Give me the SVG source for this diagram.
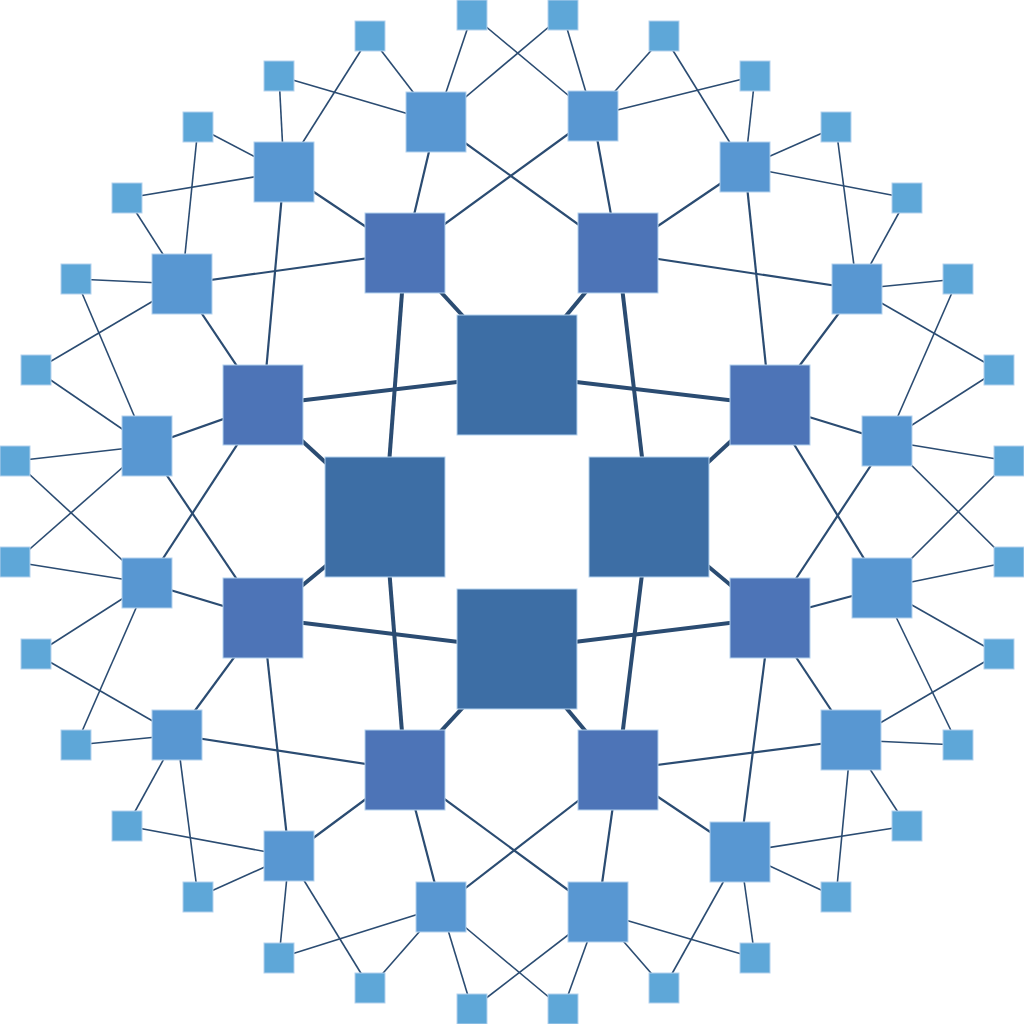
<svg xmlns="http://www.w3.org/2000/svg" width="1024" height="1024" viewBox="0 0 1024 1024">
<style>
.c,.s,.t,.o{stroke:#b4d2ee;stroke-width:1}
.c{fill:#3d6ea5}
.s{fill:#4d74b7}
.t{fill:#5897d2}
.o{fill:#5ea7d8}
line{stroke:#2b4c72;stroke-linecap:butt}
.k{stroke-width:4}
.m{stroke-width:2.2}
.n{stroke-width:1.6}
</style>
<rect x="0" y="0" width="1024" height="1024" fill="#ffffff"/>
<g id="connectors">
<line class="k" x1="405" y1="253" x2="517" y2="375"/>
<line class="k" x1="405" y1="253" x2="385" y2="517"/>
<line class="k" x1="618" y1="253" x2="517" y2="375"/>
<line class="k" x1="618" y1="253" x2="649" y2="517"/>
<line class="k" x1="263" y1="405" x2="517" y2="375"/>
<line class="k" x1="263" y1="405" x2="385" y2="517"/>
<line class="k" x1="770" y1="405" x2="517" y2="375"/>
<line class="k" x1="770" y1="405" x2="649" y2="517"/>
<line class="k" x1="263" y1="618" x2="385" y2="517"/>
<line class="k" x1="263" y1="618" x2="517" y2="649"/>
<line class="k" x1="770" y1="618" x2="649" y2="517"/>
<line class="k" x1="770" y1="618" x2="517" y2="649"/>
<line class="k" x1="405" y1="770" x2="385" y2="517"/>
<line class="k" x1="405" y1="770" x2="517" y2="649"/>
<line class="k" x1="618" y1="770" x2="649" y2="517"/>
<line class="k" x1="618" y1="770" x2="517" y2="649"/>
<line class="m" x1="405" y1="253" x2="436" y2="122"/>
<line class="m" x1="405" y1="253" x2="284" y2="172"/>
<line class="m" x1="405" y1="253" x2="182" y2="284"/>
<line class="m" x1="405" y1="253" x2="593" y2="116"/>
<line class="m" x1="618" y1="253" x2="436" y2="122"/>
<line class="m" x1="618" y1="253" x2="857" y2="289"/>
<line class="m" x1="618" y1="253" x2="745" y2="167"/>
<line class="m" x1="618" y1="253" x2="593" y2="116"/>
<line class="m" x1="263" y1="405" x2="284" y2="172"/>
<line class="m" x1="263" y1="405" x2="182" y2="284"/>
<line class="m" x1="263" y1="405" x2="147" y2="446"/>
<line class="m" x1="263" y1="405" x2="147" y2="583"/>
<line class="m" x1="770" y1="405" x2="882" y2="588"/>
<line class="m" x1="770" y1="405" x2="887" y2="441"/>
<line class="m" x1="770" y1="405" x2="857" y2="289"/>
<line class="m" x1="770" y1="405" x2="745" y2="167"/>
<line class="m" x1="263" y1="618" x2="147" y2="446"/>
<line class="m" x1="263" y1="618" x2="147" y2="583"/>
<line class="m" x1="263" y1="618" x2="177" y2="735"/>
<line class="m" x1="263" y1="618" x2="289" y2="856"/>
<line class="m" x1="770" y1="618" x2="740" y2="852"/>
<line class="m" x1="770" y1="618" x2="851" y2="740"/>
<line class="m" x1="770" y1="618" x2="882" y2="588"/>
<line class="m" x1="770" y1="618" x2="887" y2="441"/>
<line class="m" x1="405" y1="770" x2="177" y2="735"/>
<line class="m" x1="405" y1="770" x2="289" y2="856"/>
<line class="m" x1="405" y1="770" x2="441" y2="907"/>
<line class="m" x1="405" y1="770" x2="598" y2="912"/>
<line class="m" x1="618" y1="770" x2="441" y2="907"/>
<line class="m" x1="618" y1="770" x2="598" y2="912"/>
<line class="m" x1="618" y1="770" x2="740" y2="852"/>
<line class="m" x1="618" y1="770" x2="851" y2="740"/>
<line class="n" x1="436" y1="122" x2="472" y2="15"/>
<line class="n" x1="436" y1="122" x2="370" y2="36"/>
<line class="n" x1="436" y1="122" x2="279" y2="76"/>
<line class="n" x1="436" y1="122" x2="563" y2="15"/>
<line class="n" x1="284" y1="172" x2="370" y2="36"/>
<line class="n" x1="284" y1="172" x2="279" y2="76"/>
<line class="n" x1="284" y1="172" x2="198" y2="127"/>
<line class="n" x1="284" y1="172" x2="127" y2="198"/>
<line class="n" x1="182" y1="284" x2="198" y2="127"/>
<line class="n" x1="182" y1="284" x2="127" y2="198"/>
<line class="n" x1="182" y1="284" x2="76" y2="279"/>
<line class="n" x1="182" y1="284" x2="36" y2="370"/>
<line class="n" x1="147" y1="446" x2="76" y2="279"/>
<line class="n" x1="147" y1="446" x2="36" y2="370"/>
<line class="n" x1="147" y1="446" x2="15" y2="461"/>
<line class="n" x1="147" y1="446" x2="15" y2="562"/>
<line class="n" x1="147" y1="583" x2="15" y2="461"/>
<line class="n" x1="147" y1="583" x2="15" y2="562"/>
<line class="n" x1="147" y1="583" x2="36" y2="654"/>
<line class="n" x1="147" y1="583" x2="76" y2="745"/>
<line class="n" x1="177" y1="735" x2="36" y2="654"/>
<line class="n" x1="177" y1="735" x2="76" y2="745"/>
<line class="n" x1="177" y1="735" x2="127" y2="826"/>
<line class="n" x1="177" y1="735" x2="198" y2="897"/>
<line class="n" x1="289" y1="856" x2="127" y2="826"/>
<line class="n" x1="289" y1="856" x2="198" y2="897"/>
<line class="n" x1="289" y1="856" x2="279" y2="958"/>
<line class="n" x1="289" y1="856" x2="370" y2="988"/>
<line class="n" x1="441" y1="907" x2="279" y2="958"/>
<line class="n" x1="441" y1="907" x2="370" y2="988"/>
<line class="n" x1="441" y1="907" x2="472" y2="1009"/>
<line class="n" x1="441" y1="907" x2="563" y2="1009"/>
<line class="n" x1="598" y1="912" x2="472" y2="1009"/>
<line class="n" x1="598" y1="912" x2="563" y2="1009"/>
<line class="n" x1="598" y1="912" x2="664" y2="988"/>
<line class="n" x1="598" y1="912" x2="755" y2="958"/>
<line class="n" x1="740" y1="852" x2="664" y2="988"/>
<line class="n" x1="740" y1="852" x2="755" y2="958"/>
<line class="n" x1="740" y1="852" x2="836" y2="897"/>
<line class="n" x1="740" y1="852" x2="907" y2="826"/>
<line class="n" x1="851" y1="740" x2="836" y2="897"/>
<line class="n" x1="851" y1="740" x2="907" y2="826"/>
<line class="n" x1="851" y1="740" x2="958" y2="745"/>
<line class="n" x1="851" y1="740" x2="998" y2="654"/>
<line class="n" x1="882" y1="588" x2="958" y2="745"/>
<line class="n" x1="882" y1="588" x2="998" y2="654"/>
<line class="n" x1="882" y1="588" x2="1009" y2="562"/>
<line class="n" x1="882" y1="588" x2="1009" y2="461"/>
<line class="n" x1="887" y1="441" x2="1009" y2="562"/>
<line class="n" x1="887" y1="441" x2="1009" y2="461"/>
<line class="n" x1="887" y1="441" x2="998" y2="370"/>
<line class="n" x1="887" y1="441" x2="958" y2="279"/>
<line class="n" x1="857" y1="289" x2="998" y2="370"/>
<line class="n" x1="857" y1="289" x2="958" y2="279"/>
<line class="n" x1="857" y1="289" x2="907" y2="198"/>
<line class="n" x1="857" y1="289" x2="836" y2="127"/>
<line class="n" x1="745" y1="167" x2="907" y2="198"/>
<line class="n" x1="745" y1="167" x2="836" y2="127"/>
<line class="n" x1="745" y1="167" x2="755" y2="76"/>
<line class="n" x1="745" y1="167" x2="664" y2="36"/>
<line class="n" x1="593" y1="116" x2="755" y2="76"/>
<line class="n" x1="593" y1="116" x2="664" y2="36"/>
<line class="n" x1="593" y1="116" x2="563" y2="15"/>
<line class="n" x1="593" y1="116" x2="472" y2="15"/>
</g>
<g id="c-top"><rect class="c" x="457" y="315" width="120" height="120"/></g>
<g id="c-left"><rect class="c" x="325" y="457" width="120" height="120"/></g>
<g id="c-right"><rect class="c" x="589" y="457" width="120" height="120"/></g>
<g id="c-bottom"><rect class="c" x="457" y="589" width="120" height="120"/></g>
<g id="s1"><rect class="s" x="365" y="213" width="80" height="80"/></g>
<g id="s2"><rect class="s" x="578" y="213" width="80" height="80"/></g>
<g id="s3"><rect class="s" x="223" y="365" width="80" height="80"/></g>
<g id="s4"><rect class="s" x="730" y="365" width="80" height="80"/></g>
<g id="s5"><rect class="s" x="223" y="578" width="80" height="80"/></g>
<g id="s6"><rect class="s" x="730" y="578" width="80" height="80"/></g>
<g id="s7"><rect class="s" x="365" y="730" width="80" height="80"/></g>
<g id="s8"><rect class="s" x="578" y="730" width="80" height="80"/></g>
<g id="t1"><rect class="t" x="406" y="92" width="60" height="60"/></g>
<g id="t2"><rect class="t" x="254" y="142" width="60" height="60"/></g>
<g id="t3"><rect class="t" x="152" y="254" width="60" height="60"/></g>
<g id="t4"><rect class="t" x="122" y="416" width="50" height="60"/></g>
<g id="t5"><rect class="t" x="122" y="558" width="50" height="50"/></g>
<g id="t6"><rect class="t" x="152" y="710" width="50" height="50"/></g>
<g id="t7"><rect class="t" x="264" y="831" width="50" height="50"/></g>
<g id="t8"><rect class="t" x="416" y="882" width="50" height="50"/></g>
<g id="t9"><rect class="t" x="568" y="882" width="60" height="60"/></g>
<g id="t10"><rect class="t" x="710" y="822" width="60" height="60"/></g>
<g id="t11"><rect class="t" x="821" y="710" width="60" height="60"/></g>
<g id="t12"><rect class="t" x="852" y="558" width="60" height="60"/></g>
<g id="t13"><rect class="t" x="862" y="416" width="50" height="50"/></g>
<g id="t14"><rect class="t" x="832" y="264" width="50" height="50"/></g>
<g id="t15"><rect class="t" x="720" y="142" width="50" height="50"/></g>
<g id="t16"><rect class="t" x="568" y="91" width="50" height="50"/></g>
<g id="o1"><rect class="o" x="457" y="0" width="30" height="30"/></g>
<g id="o2"><rect class="o" x="355" y="21" width="30" height="30"/></g>
<g id="o3"><rect class="o" x="264" y="61" width="30" height="30"/></g>
<g id="o4"><rect class="o" x="183" y="112" width="30" height="30"/></g>
<g id="o5"><rect class="o" x="112" y="183" width="30" height="30"/></g>
<g id="o6"><rect class="o" x="61" y="264" width="30" height="30"/></g>
<g id="o7"><rect class="o" x="21" y="355" width="30" height="30"/></g>
<g id="o8"><rect class="o" x="0" y="446" width="30" height="30"/></g>
<g id="o9"><rect class="o" x="0" y="547" width="30" height="30"/></g>
<g id="o10"><rect class="o" x="21" y="639" width="30" height="30"/></g>
<g id="o11"><rect class="o" x="61" y="730" width="30" height="30"/></g>
<g id="o12"><rect class="o" x="112" y="811" width="30" height="30"/></g>
<g id="o13"><rect class="o" x="183" y="882" width="30" height="30"/></g>
<g id="o14"><rect class="o" x="264" y="943" width="30" height="30"/></g>
<g id="o15"><rect class="o" x="355" y="973" width="30" height="30"/></g>
<g id="o16"><rect class="o" x="457" y="994" width="30" height="30"/></g>
<g id="o17"><rect class="o" x="548" y="994" width="30" height="30"/></g>
<g id="o18"><rect class="o" x="649" y="973" width="30" height="30"/></g>
<g id="o19"><rect class="o" x="740" y="943" width="30" height="30"/></g>
<g id="o20"><rect class="o" x="821" y="882" width="30" height="30"/></g>
<g id="o21"><rect class="o" x="892" y="811" width="30" height="30"/></g>
<g id="o22"><rect class="o" x="943" y="730" width="30" height="30"/></g>
<g id="o23"><rect class="o" x="984" y="639" width="30" height="30"/></g>
<g id="o24"><rect class="o" x="994" y="547" width="30" height="30"/></g>
<g id="o25"><rect class="o" x="994" y="446" width="30" height="30"/></g>
<g id="o26"><rect class="o" x="984" y="355" width="30" height="30"/></g>
<g id="o27"><rect class="o" x="943" y="264" width="30" height="30"/></g>
<g id="o28"><rect class="o" x="892" y="183" width="30" height="30"/></g>
<g id="o29"><rect class="o" x="821" y="112" width="30" height="30"/></g>
<g id="o30"><rect class="o" x="740" y="61" width="30" height="30"/></g>
<g id="o31"><rect class="o" x="649" y="21" width="30" height="30"/></g>
<g id="o32"><rect class="o" x="548" y="0" width="30" height="30"/></g>
</svg>
